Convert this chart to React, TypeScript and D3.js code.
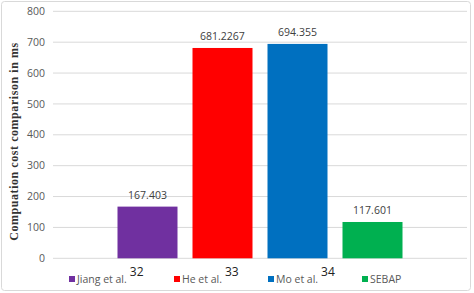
import React from "react";
import * as d3 from "d3";

const series = ["Jiang et al.", "He et al.", "Mo et al.", "SEBAP"];
const refs = ["32", "33", "34", ""];
const values = [167.403, 681.2267, 694.355, 117.601];
const valueLabels = ["167.403", "681.2267", "694.355", "117.601"];
const colors = ["#7030A0", "#FF0000", "#0070C0", "#00B050"];
const yTicks = [0, 100, 200, 300, 400, 500, 600, 700, 800];

const W = 474, H = 293;
const left = 53, right = 467, top = 11.3, bottom = 258.3;
const legendX = [69, 174, 268, 362];

export default function App() {
  const x = d3.scaleBand<string>().domain(series).range([left, right]).paddingInner(0.2).paddingOuter(0.86);
  const y = d3.scaleLinear().domain([0, 800]).range([bottom, top]);
  const font = "'Open Sans', 'Liberation Sans', sans-serif";
  return (
    <svg width={W} height={H} style={{ position: "absolute", left: 0, top: 0, background: "#fff" }}>
      <rect x={1.5} y={1.5} width={469} height={289} rx={3} fill="#fff" stroke="#d9d9d9" />
      {yTicks.map((t) => (
        <g key={t}>
          <line x1={left} x2={right} y1={y(t)} y2={y(t)} stroke="#d9d9d9" strokeWidth={1} />
          <text x={45} y={y(t)} dy="0.35em" textAnchor="end" fontFamily={font} fontSize={10.5} fill="#595959">
            {t}
          </text>
        </g>
      ))}
      {series.map((s, i) => (
        <g key={s}>
          <rect x={x(s)} y={y(values[i])} width={x.bandwidth()} height={bottom - y(values[i])} fill={colors[i]} />
          <text x={(x(s) as number) + x.bandwidth() / 2} y={y(values[i]) - 8} textAnchor="middle" fontFamily={font} fontSize={10.5} fill="#404040">
            {valueLabels[i]}
          </text>
        </g>
      ))}
      <text
        transform={`translate(18, ${(top + bottom) / 2 + 7}) rotate(-90)`}
        textAnchor="middle"
        fontFamily="'Liberation Serif', 'Times New Roman', serif"
        fontWeight="bold"
        fontSize={12}
        fill="#333"
        textLength={198}
        lengthAdjust="spacing"
      >
        Compuation cost comparison in ms
      </text>
      {series.map((s, i) => (
        <g key={"lg" + s}>
          <rect x={legendX[i]} y={276} width={6} height={6} fill={colors[i]} />
          <text x={legendX[i] + 8} y={283} fontFamily={font} fontSize={10.5} fill="#595959">
            {s}
            {refs[i] && (
              <tspan dx={3} dy={-7} fontSize={12} fill="#222">
                {refs[i]}
              </tspan>
            )}
          </text>
        </g>
      ))}
    </svg>
  );
}
